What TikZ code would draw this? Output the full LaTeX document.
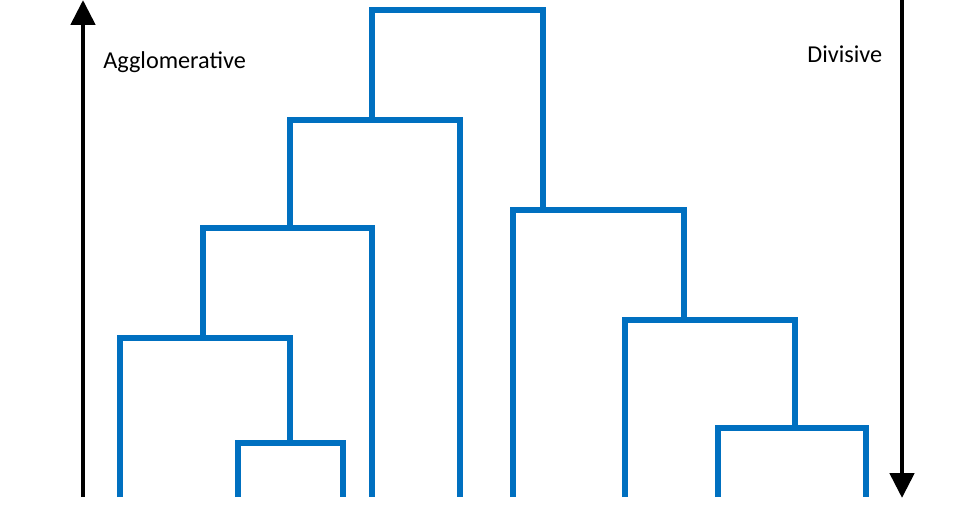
\documentclass[tikz,border=0pt]{standalone}
\usepackage{fontspec}
\setmainfont{Carlito}
\usetikzlibrary{arrows.meta}
\definecolor{dendroblue}{RGB}{0,112,192}
\tikzset{%
  link/.style={draw=dendroblue,line width=3.6pt,line cap=butt,line join=miter},
  axis/.style={draw=black,line width=2.8pt,
    -{Triangle[width=0.48cm,length=0.5cm]}},
  caption/.style={font=\fontsize{13.8}{16}\selectfont,inner sep=0pt}
}
\begin{document}
\begin{tikzpicture}[x=0.02cm,y=-0.02cm]
    \useasboundingbox (0,0) rectangle (962,506);
    % leaves
    \coordinate (l1) at (120,497);
    \coordinate (l2) at (238,497);
    \coordinate (l3) at (343,497);
    \coordinate (l4) at (372,497);
    \coordinate (l5) at (460,497);
    \coordinate (l6) at (513,497);
    \coordinate (l7) at (625,497);
    \coordinate (l8) at (718,497);
    \coordinate (l9) at (866,497);
    % merges
    \coordinate (m1) at (290,443);
    \coordinate (m2) at (203,338);
    \coordinate (m3) at (290,228);
    \coordinate (m4) at (372,120);
    \coordinate (m6) at (795,428);
    \coordinate (m7) at (684,320);
    \coordinate (m8) at (543,210);
    \coordinate (top) at (458,10);

    \draw [link] (l2) |- (m1) -| (l3);
    \draw [link] (l1) |- (m2) -| (m1);
    \draw [link] (m2) |- (m3) -| (l4);
    \draw [link] (m3) |- (m4) -| (l5);
    \draw [link] (l8) |- (m6) -| (l9);
    \draw [link] (l7) |- (m7) -| (m6);
    \draw [link] (l6) |- (m8) -| (m7);
    \draw [link] (m4) |- (top) -| (m8);

    % direction arrows
    \coordinate (aggbot) at (83,497);
    \coordinate (aggtop) at (83,0);
    \coordinate (divtop) at (902,0);
    \coordinate (divbot) at (902,498);
    \draw [axis] (aggbot) -- (aggtop);
    \draw [axis] (divtop) -- (divbot);

    \node [caption,anchor=west] (agg) at (103,62) {Agglomerative};
    \node [caption,anchor=west] (div) at (807,54) {Divisive};
\end{tikzpicture}
\end{document}
